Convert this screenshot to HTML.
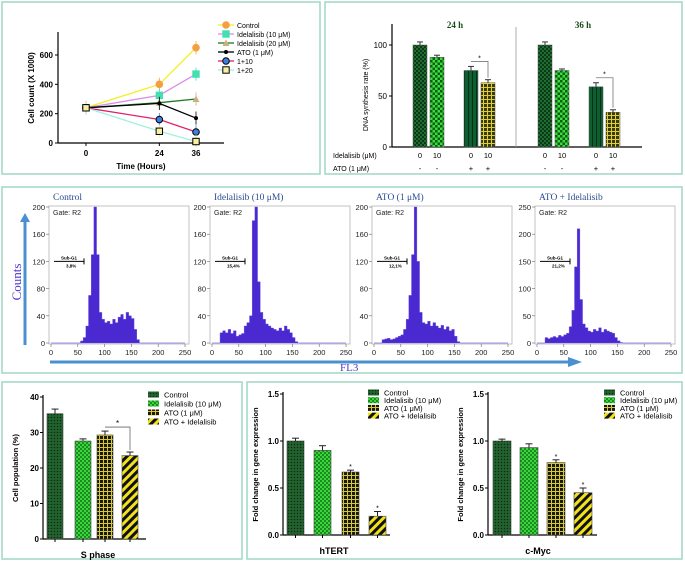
<!DOCTYPE html>
<html><head><meta charset="utf-8">
<style>
html,body{margin:0;padding:0;background:#fff;}
svg{display:block;font-family:"Liberation Sans",Arial,sans-serif;}
</style></head>
<body>
<svg id="fig" width="685" height="562" viewBox="0 0 685 562" xmlns="http://www.w3.org/2000/svg">
<defs>
<pattern id="pCtrl" width="3" height="3" patternUnits="userSpaceOnUse"><rect width="3" height="3" fill="#1f5a2a"/><rect width="1" height="1" fill="#0a2a10"/><rect x="1.5" y="1.5" width="1" height="1" fill="#2e7a3a"/></pattern>
<pattern id="pIde" width="4" height="4" patternUnits="userSpaceOnUse"><rect width="4" height="4" fill="#39d63c"/><rect width="2" height="2" fill="#1c8a20"/><rect x="2" y="2" width="2" height="2" fill="#1c8a20"/></pattern>
<pattern id="pAto" width="4" height="4" patternUnits="userSpaceOnUse"><rect width="4" height="4" fill="#d8c838"/><rect width="3" height="3" fill="#1a1a08"/></pattern>
<pattern id="pComb" width="6" height="6" patternUnits="userSpaceOnUse" patternTransform="rotate(45)"><rect width="6" height="6" fill="#111"/><rect width="3" height="6" fill="#f2e21c"/></pattern>
<pattern id="pBctrl" width="4" height="4" patternUnits="userSpaceOnUse"><rect width="4" height="4" fill="#0c3a18"/><rect width="2" height="2" fill="#1f6e30"/><rect x="2" y="2" width="2" height="2" fill="#1f6e30"/></pattern>
<pattern id="pBide" width="5" height="5" patternUnits="userSpaceOnUse"><rect width="5" height="5" fill="#38e03a"/><rect width="2.5" height="2.5" fill="#0f5a18"/><rect x="2.5" y="2.5" width="2.5" height="2.5" fill="#0f5a18"/></pattern>
<pattern id="pBato" width="4" height="4" patternUnits="userSpaceOnUse"><rect width="4" height="4" fill="#0e5e30"/><rect width="1" height="4" fill="#03301a"/></pattern>
<pattern id="pBcomb" width="4" height="4" patternUnits="userSpaceOnUse"><rect width="4" height="4" fill="#e0d030"/><rect width="3" height="3" fill="#3a3a10"/></pattern>
</defs>
<g fill="none" stroke="#9fd8c2" stroke-width="1.5">
<rect x="2" y="2" width="318" height="172"/>
<rect x="325" y="2" width="357" height="172"/>
<rect x="2" y="187" width="680" height="186"/>
<rect x="2" y="382" width="240" height="177"/>
<rect x="247" y="382" width="435" height="177"/>
</g>
<g id="gA"></g><g id="gB"></g><g id="gC"></g><g id="gD"></g><g id="gE"></g>
</svg>
<script>
// ---------- Panel A data ----------
const timePoints=[0,24,36];
const ctrlCount=[240,400,650];
const ide10Count=[240,325,470];
const ide20Count=[240,275,300];
const atoCount=[240,270,170];
const c110Count=[240,160,75];
const c120Count=[240,80,10];
const countErr=[30,30,30];
const yTicksA=[0,200,400,600];
// ---------- Panel B data ----------
const dnaGroups=["24 h","36 h"];
const dna24=[100,88,75,63];
const dna36=[100,75,59,34];
const dnaErr24=[3,2,4,3];
const dnaErr36=[3,1.5,4,2.5];
const yTicksB=[0,50,100];
const ideRow=["0","10","0","10"];
const atoRow=["-","-","+","+"];
// ---------- Panel C data (5-unit bins 0..250) ----------
const histCtrl=[0,0,0,0,0,0,0,0,0,0,0,3,8,25,70,130,200,130,45,35,30,32,28,35,30,38,42,35,45,40,36,20,5,0,0,0,0,0,0,0,0,0,0,0,0,0,0,0,0,0];
const histIde=[0,0,0,15,18,15,20,14,18,10,12,14,25,30,40,180,200,90,45,35,28,25,22,20,18,22,18,25,20,15,8,2,0,0,0,0,0,0,0,0,0,0,0,0,0,0,0,0,0,0];
const histAto=[0,0,0,5,6,7,5,6,8,10,12,20,35,70,130,200,120,45,30,28,32,25,30,25,22,26,20,24,18,20,10,2,0,0,0,0,0,0,0,0,0,0,0,0,0,0,0,0,0,0];
const histComb=[0,0,0,10,8,10,12,10,14,12,15,18,30,60,140,210,80,35,28,22,20,25,22,28,20,25,22,20,18,10,4,1,0,0,0,0,0,0,0,0,0,0,0,0,0,0,0,0,0,0];
const flowTitles=["Control","Idelalisib (10 μM)","ATO (1 μM)","ATO + Idelalisib"];
const subG1=["3,8%","15,4%","12,1%","21,2%"];
const xTicksC=[0,50,100,150,200,250];
// ---------- Panel D/E data ----------
const legendLabels=["Control","Idelalisib (10 μM)","ATO (1 μM)","ATO + Idelalisib"];
const sPhase=[35.3,27.6,29.3,23.5];
const sPhaseErr=[1.3,0.6,1.1,1.0];
const yTicksD=[0,10,20,30,40];
const hTERT=[1.0,0.9,0.67,0.2];
const hTERTErr=[0.03,0.05,0.02,0.05];
const cMyc=[1.0,0.93,0.77,0.45];
const cMycErr=[0.02,0.04,0.03,0.05];
const yTicksE=["0.0","0.5","1.0","1.5"];

const NS="http://www.w3.org/2000/svg";
function mk(parent,tag,attrs,text){const e=document.createElementNS(NS,tag);for(const k in attrs)e.setAttribute(k,attrs[k]);if(text!==undefined)e.textContent=text;parent.appendChild(e);return e;}
function lin(d0,d1,r0,r1){return v=>r0+(v-d0)*(r1-r0)/(d1-d0);}

// ===== Panel A =====
(function(){
const g=document.getElementById('gA');
const x=lin(0,36,86,196), y=lin(0,600,143,55);
let e=mk(g,'line',{x1:58,y1:32,x2:58,y2:143,stroke:'#000','stroke-width':1.2});

e=mk(g,'line',{x1:58,y1:143,x2:224,y2:143,stroke:'#000','stroke-width':1.2});

yTicksA.forEach(t=>{mk(g,'line',{x1:55,x2:58,y1:y(t),y2:y(t),stroke:'#000'});
 e=mk(g,'text',{x:53,y:y(t)+3,'font-size':8,'font-weight':'bold','text-anchor':'end'},t);
 });
timePoints.forEach(t=>{mk(g,'line',{x1:x(t),x2:x(t),y1:143,y2:146,stroke:'#000'});
 e=mk(g,'text',{x:x(t),y:156,'font-size':8,'font-weight':'bold','text-anchor':'middle'},t);
 });
e=mk(g,'text',{x:141,y:169,'font-size':8,'font-weight':'bold','text-anchor':'middle'},'Time (Hours)');

e=mk(g,'text',{x:0,y:0,'font-size':8,'font-weight':'bold','text-anchor':'middle',transform:'translate(34,88) rotate(-90)'},'Cell count (X 1000)');

const series=[
 {d:ctrlCount,line:'#f4f020',mk:'circle',fill:'#f5a040',stroke:'#f5a040',name:'Control'},
 {d:ide10Count,line:'#d890e8',mk:'square',fill:'#40e0b0',stroke:'#40e0b0',name:'Idelalisib (10 μM)'},
 {d:ide20Count,line:'#1e7a1e',mk:'tri',fill:'#c8b080',stroke:'#c8b080',name:'Idelalisib (20 μM)'},
 {d:atoCount,line:'#000',mk:'dot',fill:'#000',stroke:'#000',name:'ATO (1 μM)'},
 {d:c110Count,line:'#e0206a',mk:'circle',fill:'#3a80e0',stroke:'#000',name:'1+10'},
 {d:c120Count,line:'#a0f0e0',mk:'square',fill:'#f8f0a0',stroke:'#000',name:'1+20'}];
function marker(p,type,cx,cy,s){let m;
 if(type==='circle')m=mk(p,'circle',{cx,cy,r:3.3,fill:s.fill,stroke:s.stroke,'stroke-width':1});
 else if(type==='square')m=mk(p,'rect',{x:cx-3.2,y:cy-3.2,width:6.4,height:6.4,fill:s.fill,stroke:s.stroke,'stroke-width':1});
 else if(type==='tri')m=mk(p,'path',{d:`M${cx},${cy-3.5}L${cx+3.5},${cy+3}L${cx-3.5},${cy+3}Z`,fill:s.fill});
 else m=mk(p,'circle',{cx,cy,r:2,fill:s.fill});return m;}
series.forEach((s,si)=>{
 const sg=mk(g,'g',{});
 
 mk(sg,'polyline',{points:s.d.map((v,i)=>x(timePoints[i])+','+y(v)).join(' '),fill:'none',stroke:s.line,'stroke-width':1.3});
 s.d.forEach((v,i)=>{const cx=x(timePoints[i]),cy=y(v),ee=countErr[i]*(0.22);
  mk(sg,'line',{x1:cx,x2:cx,y1:cy-ee*1.0,y2:cy+ee*1.0,stroke:s.fill==='#000'?'#000':s.fill,'stroke-width':0.8});
  marker(sg,s.mk,cx,cy,s);});
 const ly=25+si*9;
 const lg=mk(g,'g',{});
 
 mk(lg,'line',{x1:218,x2:234,y1:ly,y2:ly,stroke:s.line,'stroke-width':1.3});
 marker(lg,s.mk,226,ly,s);
 mk(lg,'text',{x:237,y:ly+3,'font-size':7},s.name);
});
})();

// ===== Panel B =====
(function(){
const g=document.getElementById('gB');
const y=lin(0,100,147,45);
let e=mk(g,'line',{x1:392,y1:24,x2:392,y2:147,stroke:'#000','stroke-width':1.2});

e=mk(g,'line',{x1:392,y1:147,x2:642,y2:147,stroke:'#000','stroke-width':1.2});

mk(g,'line',{x1:516,y1:27,x2:516,y2:147,stroke:'#999','stroke-width':0.8});
yTicksB.forEach(t=>{mk(g,'line',{x1:389,x2:392,y1:y(t),y2:y(t),stroke:'#000'});
 e=mk(g,'text',{x:387,y:y(t)+3,'font-size':8,'text-anchor':'end'},t);
 });
e=mk(g,'text',{x:0,y:0,'font-size':7,'text-anchor':'middle',transform:'translate(368,95) rotate(-90)'},'DNA synthesis rate (%)');

const fills=['url(#pBctrl)','url(#pBide)','url(#pBato)','url(#pBcomb)'];
const offs=[[413,430,464,481],[538,555,589,606]];
[dna24,dna36].forEach((vals,gi)=>{
 const errs=gi?dnaErr36:dnaErr24;
 e=mk(g,'text',{x:gi?583:455,y:28,'font-size':9,'font-weight':'bold','font-family':'Liberation Serif,serif',fill:'#1a4a1a','text-anchor':'middle'},dnaGroups[gi]);
 
 vals.forEach((v,i)=>{const bx=offs[gi][i],w=14;
  e=mk(g,'rect',{x:bx,y:y(v),width:w,height:147-y(v),fill:fills[i],stroke:'#555','stroke-width':0.5});
  
  const cx=bx+w/2;
  mk(g,'line',{x1:cx,x2:cx,y1:y(v+errs[i]),y2:y(v),stroke:'#333'});
  mk(g,'line',{x1:cx-3,x2:cx+3,y1:y(v+errs[i]),y2:y(v+errs[i]),stroke:'#333'});
  e=mk(g,'text',{x:cx,y:158,'font-size':7.5,'text-anchor':'middle'},ideRow[i]);
  
  e=mk(g,'text',{x:cx,y:171,'font-size':7.5,'text-anchor':'middle'},atoRow[i]);
  
 });
 const c2=offs[gi][2]+7,c3=offs[gi][3]+7,top=y(vals[2]+errs[2])-5;
 mk(g,'path',{d:`M${c2},${top}H${c3}V${y(vals[3]+errs[3])-2}`,fill:'none',stroke:'#777','stroke-width':0.8});
 mk(g,'text',{x:(c2+c3)/2,y:top-1,'font-size':7,'text-anchor':'middle'},'*');
});
e=mk(g,'text',{x:333,y:158,'font-size':7},'Idelalisib (μM)');

e=mk(g,'text',{x:333,y:171,'font-size':7},'ATO (1 μM)');

})();

// ===== Panel C =====
(function(){
const g=document.getElementById('gC');
const boxes=[{x0:51,x1:185,ymax:200},{x0:212,x1:346,ymax:200},{x0:374,x1:508,ymax:200},{x0:537,x1:671,ymax:250}];
const hists=[histCtrl,histIde,histAto,histComb];
const yT200=[0,40,80,120,160,200],yT250=[0,50,100,150,200,250];
boxes.forEach((b,bi)=>{
 const pg=mk(g,'g',{});
 
 const x=lin(0,250,b.x0,b.x1),y=lin(0,b.ymax,343,207);
 mk(pg,'rect',{x:b.x0-2,y:206,width:b.x1-b.x0+6,height:138,fill:'#fff',stroke:'#aaa','stroke-width':0.7});
 const h=hists[bi];
 let d=`M${x(0)},343`;
 h.forEach((v,i)=>{const vv=Math.min(v,b.ymax);d+=`V${y(vv)}H${x((i+1)*5)}`;});
 d+='V343Z';
 mk(pg,'path',{d,fill:'#4a2ad0',stroke:'#6a50e0','stroke-width':0.4});
 (b.ymax===200?yT200:yT250).forEach(t=>{
  mk(pg,'line',{x1:b.x0-5,x2:b.x0-2,y1:y(t),y2:y(t),stroke:'#666','stroke-width':0.6});
  mk(pg,'text',{x:b.x0-6,y:y(t)+3,'font-size':7.5,fill:'#222','text-anchor':'end'},t);});
 xTicksC.forEach(t=>{mk(pg,'line',{x1:x(t),x2:x(t),y1:344,y2:347,stroke:'#666','stroke-width':0.6});
  mk(pg,'text',{x:x(t),y:355,'font-size':7.5,fill:'#222','text-anchor':'middle'},t);});
 mk(pg,'text',{x:b.x0+2,y:215,'font-size':7,fill:'#222'},'Gate: R2');
 const tt=mk(pg,'text',{x:b.x0+2,y:200,'font-size':9.5,'font-family':'Liberation Serif,serif',fill:'#2a4a90'},flowTitles[bi]);
 
 const gy=y(b.ymax===200?120:150);
 mk(pg,'line',{x1:b.x0+3,x2:b.x0+33,y1:gy,y2:gy,stroke:'#000','stroke-width':1});
 mk(pg,'line',{x1:b.x0+33,x2:b.x0+33,y1:gy-3,y2:gy+3,stroke:'#000','stroke-width':1});
 mk(pg,'text',{x:b.x0+10,y:gy-2,'font-size':4.5,'font-weight':'bold'},'Sub-G1');
 mk(pg,'text',{x:b.x0+15,y:gy+6,'font-size':4.5,'font-weight':'bold'},subG1[bi]);
});
let e=mk(g,'line',{x1:25,y1:345,x2:25,y2:222,stroke:'#4a90d0','stroke-width':3});

mk(g,'path',{d:'M20,222L25,213L30,222Z',fill:'#4a90d0'});
e=mk(g,'text',{x:0,y:0,'font-size':13,'font-family':'Liberation Serif,serif',fill:'#4a3ad0','text-anchor':'middle',transform:'translate(21,282) rotate(-90)'},'Counts');

e=mk(g,'line',{x1:50,y1:362,x2:570,y2:362,stroke:'#4a90d0','stroke-width':3});

mk(g,'path',{d:'M568,357L582,362L568,367Z',fill:'#4a90d0'});
e=mk(g,'text',{x:340,y:371,'font-size':11,'font-family':'Liberation Serif,serif',fill:'#4a3ad0'},'FL3');

})();

// ===== Bar chart helper for D/E =====
const barFills=['url(#pCtrl)','url(#pIde)','url(#pAto)','url(#pComb)'];
function barChart(g,name,o){
 const y=lin(o.d0,o.d1,o.yb,o.yt);
 let e=mk(g,'line',{x1:o.ax,y1:o.yt-2,x2:o.ax,y2:o.yb,stroke:'#000','stroke-width':1.2});
 
 e=mk(g,'line',{x1:o.ax,y1:o.yb,x2:o.xe,y2:o.yb,stroke:'#000','stroke-width':1.2});
 
 o.ticks.forEach(t=>{const v=parseFloat(t);mk(g,'line',{x1:o.ax-3,x2:o.ax,y1:y(v),y2:y(v),stroke:'#000'});
  e=mk(g,'text',{x:o.ax-4,y:y(v)+3,'font-size':8,'font-weight':'bold','text-anchor':'end'},t);
  });
 e=mk(g,'text',{x:0,y:0,'font-size':7.5,'font-weight':'bold','text-anchor':'middle',transform:`translate(${o.ax-25},${(o.yt+o.yb)/2}) rotate(-90)`},o.ytitle);
 
 e=mk(g,'text',{x:o.lx,y:o.yb+19,'font-size':9,'font-weight':'bold','text-anchor':'middle'},o.xlabel);
 
 o.vals.forEach((v,i)=>{const bx=o.bx[i],w=o.bw;
  e=mk(g,'rect',{x:bx,y:y(v),width:w,height:o.yb-y(v),fill:barFills[i],stroke:'#444','stroke-width':0.6});
  
  const cx=bx+w/2,ey=y(v+o.err[i]);
  mk(g,'line',{x1:cx,x2:cx,y1:ey,y2:y(v),stroke:'#222'});
  mk(g,'line',{x1:cx-3.5,x2:cx+3.5,y1:ey,y2:ey,stroke:'#222'});
  mk(g,'line',{x1:cx,x2:cx,y1:o.yb,y2:o.yb+3,stroke:'#000'});
  if(o.stars&&i>=2)mk(g,'text',{x:cx,y:ey-1,'font-size':7,'text-anchor':'middle'},'*');
 });
 const lg=mk(g,'g',{});
 
 legendLabels.forEach((l,i)=>{const ly=o.legY+i*o.legDy;
  mk(lg,'rect',{x:o.legX,y:ly-3.5,width:11,height:6,fill:barFills[i]});
  mk(lg,'text',{x:o.legX+16,y:ly+2.5,'font-size':7.5},l);});
 return y;
}
// Panel D
(function(){
const g=document.getElementById('gD');
const y=barChart(g,'sphase',{d0:0,d1:40,yb:539,yt:397,ax:43,xe:146,ticks:yTicksD,vals:sPhase,err:sPhaseErr,bx:[47,75,97,122],bw:16,ytitle:'Cell population (%)',xlabel:'S phase',lx:98,legX:148,legY:395,legDy:9,stars:false});
const c2=105,c3=130,top=y(sPhase[2]+sPhaseErr[2])-4;
mk(g,'path',{d:`M${c2},${top}H${c3}V${y(sPhase[3]+sPhaseErr[3])-2}`,fill:'none',stroke:'#666','stroke-width':0.8});
mk(g,'text',{x:(c2+c3)/2,y:top-1,'font-size':8,'text-anchor':'middle'},'*');
})();
// Panel E
(function(){
const g=document.getElementById('gE');
barChart(g,'htert',{d0:0,d1:1.5,yb:535,yt:394,ax:283,xe:390,ticks:yTicksE,vals:hTERT,err:hTERTErr,bx:[287,314,342,369],bw:17,ytitle:'Fold change in gene expression',xlabel:'hTERT',lx:334,legX:368,legY:393,legDy:7.7,stars:true});
barChart(g,'cmyc',{d0:0,d1:1.5,yb:535,yt:394,ax:488,xe:597,ticks:yTicksE,vals:cMyc,err:cMycErr,bx:[493,520,547,574],bw:18,ytitle:'Fold change in gene expression',xlabel:'c-Myc',lx:538,legX:604,legY:393,legDy:7.7,stars:true});
})();
</script>
</body></html>
